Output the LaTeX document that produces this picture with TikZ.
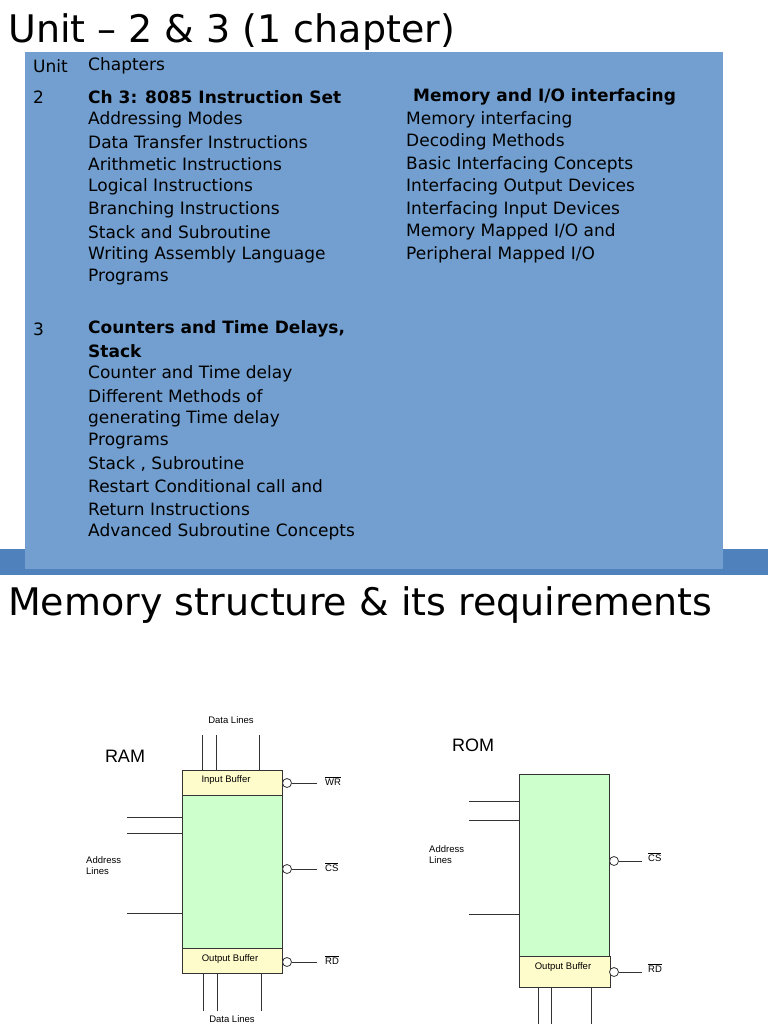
\documentclass[tikz,border=0pt]{standalone}
\usepackage{fontspec}
\setmainfont{DejaVu Sans}
\newfontfamily\arial{Liberation Sans}
\begin{document}
\begin{tikzpicture}[x=1pt,y=-1pt,
  tt/.style={anchor=west,inner sep=0,font=\fontsize{17}{17}\selectfont},
  bt/.style={tt,font=\fontsize{17}{17}\selectfont\bfseries},
  sm/.style={inner sep=0,font=\arial\fontsize{9.5}{11}\selectfont},
  ln/.style={line width=0.8pt,draw=black!80},
  buf/.style={draw=black!80,line width=0.8pt,fill=yellow!20},
  mem/.style={draw=black!80,line width=0.8pt,fill=green!20},
  bub/.style={circle,draw=black!80,line width=0.8pt,fill=white,minimum size=9pt,inner sep=0}]
\useasboundingbox (0,0) rectangle (768,1024);
\fill[white] (0,0) rectangle (768,1024);
\node[anchor=west,inner sep=0,font=\fontsize{38}{38}\selectfont] (t1) at (8,32) {Unit – 2 \& 3 (1 chapter)};
\fill[fill={rgb,255:red,79;green,129;blue,189}] (0,549) rectangle (768,575);
\fill[fill={rgb,255:red,114;green,159;blue,207}] (25,52) rectangle (723,569);
\node[tt] (u) at (33,66) {Unit};
\node[tt] (c) at (88,66) {Chapters};
\node[tt] (n2) at (33,97) {2};
\node[bt] at (88,97) {Ch 3: 8085 Instruction Set};
\foreach \t [count=\i] in {Addressing Modes,Data Transfer Instructions,Arithmetic Instructions,Logical Instructions,Branching Instructions,Stack and Subroutine,Writing Assembly Language,Programs}
  \node[tt] at (88,97+22.5*\i) {\t};
\node[bt] at (413,97) {Memory and I/O interfacing};
\foreach \t [count=\i] in {Memory interfacing,Decoding Methods,Basic Interfacing Concepts,Interfacing Output Devices,Interfacing Input Devices,Memory Mapped I/O and,Peripheral Mapped I/O}
  \node[tt] at (406,97+22.5*\i) {\t};
\node[tt] (n3) at (33,329) {3};
\node[bt] at (88,329) {Counters and Time Delays,};
\node[bt] at (88,351) {Stack};
\foreach \t [count=\i] in {Counter and Time delay,Different Methods of,generating Time delay,Programs,{Stack , Subroutine},Restart Conditional call and,Return Instructions,Advanced Subroutine Concepts}
  \node[tt] at (88,351+22.6*\i) {\t};
\node[anchor=west,inner sep=0,font=\fontsize{38}{38}\selectfont] (t2) at (8,605) {Memory structure \& its requirements};
% RAM
\node[inner sep=0,font=\arial\fontsize{18}{18}\selectfont] (ram) at (125,756) {RAM};
\draw[buf] (182,770) rectangle (282,795);
\draw[mem] (182,795) rectangle (282,948);
\draw[buf] (182,948) rectangle (282,973);
\node[sm] (ib) at (226,780) {Input Buffer};
\node[sm] (ob) at (230,959) {Output Buffer};
\node[sm] (dl1) at (231,720) {Data Lines};
\node[sm] (dl2) at (232,1019) {Data Lines};
\foreach \x in {202,216,259} \draw[ln] (\x,735) -- (\x,770);
\foreach \x in {203,217,261} \draw[ln] (\x,973) -- (\x,1011);
\foreach \y in {817,833,913} \draw[ln] (127,\y) -- (182,\y);
\node[sm,align=left,anchor=west] (al1) at (86,866) {Address\\Lines};
\foreach \y/\l in {783/WR,869/CS,962/RD}{
  \node[bub] (b\l) at (287,\y) {};
  \draw[ln] (b\l.east) -- (317,\y);
  \node[sm,anchor=west] at (325,\y-2) {$\overline{\mbox{\arial\fontsize{9.5}{11}\selectfont \l}}$};
}
% ROM
\node[inner sep=0,font=\arial\fontsize{18}{18}\selectfont] (rom) at (473,745) {ROM};
\draw[mem] (519,774) rectangle (609,956);
\draw[buf] (519,956) rectangle (610,987);
\node[sm] (ob2) at (563,967) {Output Buffer};
\foreach \x in {538,551,591} \draw[ln] (\x,987) -- (\x,1024);
\foreach \y in {801,820,914} \draw[ln] (469,\y) -- (519,\y);
\node[sm,align=left,anchor=west] (al2) at (429,855) {Address\\Lines};
\foreach \y/\l in {861/CS,972/RD}{
  \node[bub] (c\l) at (614,\y) {};
  \draw[ln] (c\l.east) -- (642,\y);
  \node[sm,anchor=west] at (648,\y-4) {$\overline{\mbox{\arial\fontsize{9.5}{11}\selectfont \l}}$};
}
\end{tikzpicture}
\end{document}
